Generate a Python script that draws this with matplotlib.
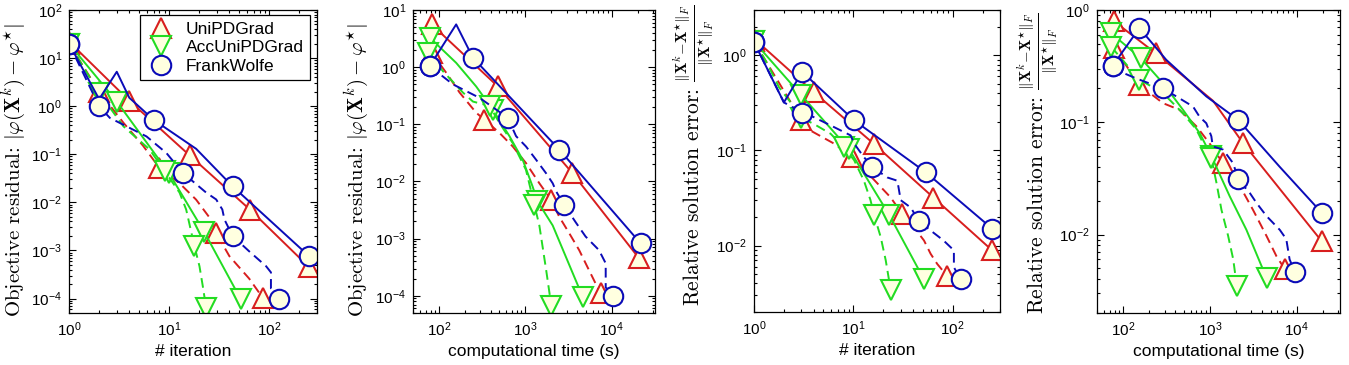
import matplotlib
matplotlib.use("Agg")
import matplotlib.pyplot as plt
from matplotlib.lines import Line2D

plt.rcParams['font.family'] = ['Liberation Sans', 'DejaVu Sans']
plt.rcParams['mathtext.fontset'] = 'cm'
plt.rcParams['lines.scale_dashes'] = False

# ---- panel 1: objective residual vs iteration ----
p1_red_k = [1, 4, 16, 64, 250]
p1_red_v = [22, 1.3, 0.095, 0.0071, 4.5e-4]
p1_red_mk = [0, 1, 2, 3, 4]
p1_redd_k = [1, 2, 3.5, 5.5, 8, 12.7, 18.6, 25, 29.5, 40, 63, 86]
p1_redd_v = [20, 2.0, 0.45, 0.15, 0.052, 0.025, 0.0114, 0.005, 0.0023, 7.6e-4, 2.6e-4, 1.04e-4]
p1_redd_mk = [0, 1, 4, 8, 11]
p1_grn_k = [1, 3, 10, 22.5, 52]
p1_grn_v = [20, 1.25, 0.04, 0.0024, 9.6e-5]
p1_grn_mk = [0, 1, 2, 3, 4]
p1_grnd_k = [1, 2, 3.5, 6.4, 9, 12.7, 14.8, 17.9, 20.1, 21.7, 23.4]
p1_grnd_v = [20, 1.9, 0.38, 0.125, 0.045, 0.016, 0.0071, 0.00123, 4.7e-4, 1.8e-4, 6.5e-5]
p1_grnd_mk = [0, 1, 4, 7, 10]
p1_blu_k = [1, 2, 3, 4, 7, 18.6, 43, 250]
p1_blu_v = [20, 1.4, 5.2, 1.5, 0.52, 0.13, 0.0216, 7.6e-4]
p1_blu_mk = [0, 4, 6, 7]
p1_blud_k = [1, 2, 2.56, 5.94, 9.4, 13.7, 23.4, 29.5, 34, 35.7, 43, 63, 93, 104, 104, 126]
p1_blud_v = [20, 0.99, 0.57, 0.235, 0.106, 0.041, 0.016, 0.0115, 0.0071, 0.0044, 0.002,
             9.6e-4, 4.7e-4, 3.5e-4, 1.6e-4, 9.6e-5]
p1_blud_mk = [0, 1, 5, 10, 15]

# ---- panel 2: objective residual vs time ----
p2_red_t = [82, 480, 3500, 20500]
p2_red_v = [5.6, 0.46, 0.014, 4.6e-4]
p2_red_mk = [0, 1, 2, 3]
p2_redd_t = [82, 121, 173, 269, 336, 500, 713, 1015, 1450, 1980, 2470, 3220, 4190, 5450, 7400]
p2_redd_v = [1.8, 0.8, 0.36, 0.16, 0.12, 0.071, 0.041, 0.021, 0.0093, 0.0048, 0.0024,
             0.00124, 6.3e-4, 2.8e-4, 1.1e-4]
p2_redd_mk = [0, 4, 9, 14]
p2_grn_t = [78, 158, 269, 420, 654, 930, 1210, 1380, 2070, 4600]
p2_grn_v = [3.3, 1.19, 0.46, 0.18, 0.062, 0.024, 0.0082, 0.0045, 0.0017, 9.6e-5]
p2_grn_mk = [0, 3, 7, 9]
p2_grnd_t = [75, 111, 189, 247, 385, 500, 713, 1015, 1270, 1450, 1740, 2000]
p2_grnd_v = [1.8, 0.85, 0.36, 0.25, 0.21, 0.106, 0.047, 0.016, 0.0039, 0.0017, 2.8e-4, 6.5e-5]
p2_grnd_mk = [0, 4, 8, 11]
p2_blu_t = [78, 158, 247, 2470, 21500]
p2_blu_v = [1.04, 5.6, 1.46, 0.036, 8.3e-4]
p2_blu_mk = [0, 2, 3, 4]
p2_blud_t = [78, 145, 295, 625, 780, 1015, 1330, 1730, 2070, 2270, 2800, 3850, 4970, 7100,
             8500, 8500, 10200]
p2_blud_v = [1.04, 0.5, 0.29, 0.13, 0.062, 0.041, 0.024, 0.014, 0.0093, 0.0067, 0.0039,
             0.0019, 0.00109, 6.3e-4, 3.7e-4, 1.4e-4, 1.0e-4]
p2_blud_mk = [0, 3, 10, 16]

# ---- panel 3: relative solution error vs iteration ----
p3_red_k = [1, 4, 16, 64, 250]
p3_red_v = [1.5, 0.41, 0.118, 0.032, 0.0089]
p3_red_mk = [0, 1, 2, 3, 4]
p3_redd_k = [1, 3, 3.7, 6.4, 9.8, 17.5, 23.8, 31, 40.7, 51.5, 60, 70, 88]
p3_redd_v = [1.4, 0.21, 0.162, 0.118, 0.085, 0.045, 0.032, 0.0215, 0.0156, 0.0113, 0.0082,
             0.0064, 0.0048]
p3_redd_mk = [0, 1, 4, 7, 12]
p3_grn_k = [1, 3, 9, 23, 51.5]
p3_grn_v = [1.4, 0.38, 0.104, 0.021, 0.0044]
p3_grn_mk = [0, 1, 2, 3, 4]
p3_grnd_k = [1, 1.36, 1.79, 2.34, 3, 4, 5.9, 8.06, 10.2, 12.8, 14.9, 16.2, 18.9, 21.2, 23.8]
p3_grnd_v = [1.4, 0.82, 0.46, 0.32, 0.22, 0.19, 0.15, 0.108, 0.079, 0.048, 0.03, 0.021,
             0.0122, 0.007, 0.0034]
p3_grnd_mk = [0, 4, 7, 11, 14]
p3_blu_k = [1, 2, 3.06, 10.2, 53.6, 251]
p3_blu_v = [1.38, 0.32, 0.67, 0.207, 0.059, 0.015]
p3_blu_mk = [0, 2, 3, 4, 5]
p3_blud_k = [1, 2, 3.06, 4, 6.4, 9.4, 10.2, 12.8, 15.5, 22, 27.8, 30, 38, 45.8, 60, 81,
             103, 103, 121]
p3_blud_v = [1.38, 0.32, 0.25, 0.224, 0.176, 0.144, 0.118, 0.085, 0.067, 0.052, 0.048,
             0.03, 0.025, 0.018, 0.0144, 0.0113, 0.0089, 0.0059, 0.0044]
p3_blud_mk = [0, 2, 8, 13, 18]

# ---- panel 4: relative solution error vs time ----
p4_red_t = [79, 240, 1090, 2420, 19500]
p4_red_v = [0.79, 0.41, 0.155, 0.065, 0.0087]
p4_red_mk = [0, 1, 3, 4]
p4_redd_t = [79, 154, 288, 447, 700, 990, 1420, 2220, 3140, 4500, 5860, 7330]
p4_redd_v = [0.46, 0.215, 0.148, 0.129, 0.092, 0.065, 0.043, 0.027, 0.0166, 0.0097,
             0.0064, 0.0049]
p4_redd_mk = [0, 1, 6, 11]
p4_grn_t = [73, 161, 288, 490, 763, 1040, 1690, 2640, 4500]
p4_grn_v = [0.62, 0.37, 0.223, 0.129, 0.08, 0.05, 0.022, 0.011, 0.0041]
p4_grn_mk = [0, 1, 5, 8]
p4_grnd_t = [73, 154, 288, 490, 700, 910, 1040, 1190, 1360, 1620, 1860, 2040]
p4_grnd_v = [0.47, 0.24, 0.182, 0.12, 0.086, 0.057, 0.048, 0.029, 0.0166, 0.0098, 0.006,
             0.0035]
p4_grnd_mk = [0, 1, 6, 11]
p4_blu_t = [76, 154, 314, 910, 2120, 6400, 19500]
p4_blu_v = [0.32, 0.69, 0.36, 0.17, 0.105, 0.04, 0.0156]
p4_blu_mk = [0, 1, 4, 6]
p4_blud_t = [76, 95, 141, 288, 410, 640, 760, 910, 1040, 1080, 1420, 1860, 2120, 2880,
             3450, 4500, 6400, 7600, 8300, 9600]
p4_blud_v = [0.32, 0.28, 0.246, 0.2, 0.17, 0.138, 0.112, 0.098, 0.075, 0.061, 0.057,
             0.043, 0.031, 0.0235, 0.0191, 0.0146, 0.011, 0.0091, 0.006, 0.0046]
p4_blud_mk = [0, 3, 12, 19]

labels = ['UniPDGrad', 'AccUniPDGrad', 'FrankWolfe']

RED = '#D81E1E'
GRN = '#22DC22'
BLU = '#0B0BB8'
FACE = '#FFFFE0'
DASH = (7, 4)
MS = 14

ylab_obj = r"Objective residual: $|\varphi(\mathbf{X}^k)-\varphi^{\star}|$"
ylab_rel = (r"Relative solution error: "
            r"$\frac{\|\mathbf{X}^k\!-\!\mathbf{X}^{\star}\|_F}{\|\mathbf{X}^{\star}\|_F}$")


def curve(ax, x, y, mk, color, marker, dashed):
    kw = dict(color=color, lw=1.4, marker=marker, markevery=mk, ms=MS,
              mfc=FACE, mec=color, mew=1.5)
    if dashed:
        ax.plot(x, y, ls='--', dashes=DASH, **kw)
    else:
        ax.plot(x, y, ls='-', **kw)


def style(ax):
    ax.set_xscale('log')
    ax.set_yscale('log')
    ax.tick_params(which='both', direction='in', top=True, right=True, width=0.8,
                   labelsize=11, pad=5)
    ax.tick_params(which='major', length=5)
    ax.tick_params(which='minor', length=2.5)
    for s in ax.spines.values():
        s.set_linewidth(0.9)


fig = plt.figure(figsize=(13.49, 3.65), dpi=100)
ax1 = fig.add_axes([69 / 1349, 52 / 365, 248 / 1349, 303 / 365])
ax2 = fig.add_axes([413 / 1349, 52 / 365, 242 / 1349, 303 / 365])
ax3 = fig.add_axes([754 / 1349, 53 / 365, 246 / 1349, 302 / 365])
ax4 = fig.add_axes([1097 / 1349, 52 / 365, 243 / 1349, 303 / 365])

for ax in (ax1, ax2, ax3, ax4):
    style(ax)

curve(ax1, p1_red_k, p1_red_v, p1_red_mk, RED, '^', False)
curve(ax1, p1_redd_k, p1_redd_v, p1_redd_mk, RED, '^', True)
curve(ax1, p1_grn_k, p1_grn_v, p1_grn_mk, GRN, 'v', False)
curve(ax1, p1_grnd_k, p1_grnd_v, p1_grnd_mk, GRN, 'v', True)
curve(ax1, p1_blu_k, p1_blu_v, p1_blu_mk, BLU, 'o', False)
curve(ax1, p1_blud_k, p1_blud_v, p1_blud_mk, BLU, 'o', True)

curve(ax2, p2_red_t, p2_red_v, p2_red_mk, RED, '^', False)
curve(ax2, p2_redd_t, p2_redd_v, p2_redd_mk, RED, '^', True)
curve(ax2, p2_grn_t, p2_grn_v, p2_grn_mk, GRN, 'v', False)
curve(ax2, p2_grnd_t, p2_grnd_v, p2_grnd_mk, GRN, 'v', True)
curve(ax2, p2_blu_t, p2_blu_v, p2_blu_mk, BLU, 'o', False)
curve(ax2, p2_blud_t, p2_blud_v, p2_blud_mk, BLU, 'o', True)

curve(ax3, p3_red_k, p3_red_v, p3_red_mk, RED, '^', False)
curve(ax3, p3_redd_k, p3_redd_v, p3_redd_mk, RED, '^', True)
curve(ax3, p3_grn_k, p3_grn_v, p3_grn_mk, GRN, 'v', False)
curve(ax3, p3_grnd_k, p3_grnd_v, p3_grnd_mk, GRN, 'v', True)
curve(ax3, p3_blu_k, p3_blu_v, p3_blu_mk, BLU, 'o', False)
curve(ax3, p3_blud_k, p3_blud_v, p3_blud_mk, BLU, 'o', True)

curve(ax4, p4_red_t, p4_red_v, p4_red_mk, RED, '^', False)
curve(ax4, p4_redd_t, p4_redd_v, p4_redd_mk, RED, '^', True)
curve(ax4, p4_grn_t, p4_grn_v, p4_grn_mk, GRN, 'v', False)
curve(ax4, p4_grnd_t, p4_grnd_v, p4_grnd_mk, GRN, 'v', True)
curve(ax4, p4_blu_t, p4_blu_v, p4_blu_mk, BLU, 'o', False)
curve(ax4, p4_blud_t, p4_blud_v, p4_blud_mk, BLU, 'o', True)

ax1.set_xlim(1, 300)
ax1.set_ylim(5e-5, 100)
ax2.set_xlim(50, 10 ** 4.5)
ax2.set_ylim(5e-5, 10)
ax3.set_xlim(1, 300)
ax3.set_ylim(2e-3, 3)
ax4.set_xlim(50, 10 ** 4.5)
ax4.set_ylim(2e-3, 1)

for ax, xl in ((ax1, '# iteration'), (ax3, '# iteration'),
               (ax2, 'computational time (s)'), (ax4, 'computational time (s)')):
    ax.set_xlabel(xl, fontsize=12.5, labelpad=4)

ax1.set_ylabel(ylab_obj, fontsize=15, fontfamily='cmr10')
ax2.set_ylabel(ylab_obj, fontsize=15, fontfamily='cmr10')
ax3.set_ylabel(ylab_rel, fontsize=15.5, fontfamily='cmr10')
ax4.set_ylabel(ylab_rel, fontsize=15.5, fontfamily='cmr10')
ax1.yaxis.set_label_coords(-0.166, 0.47)
ax2.yaxis.set_label_coords(-0.174, 0.47)
ax3.yaxis.set_label_coords(-0.159, 0.52)
ax4.yaxis.set_label_coords(-0.156, 0.495)

handles = [
    Line2D([], [], ls='none', marker='^', ms=MS, mfc=FACE, mec=RED, mew=1.5),
    Line2D([], [], ls='none', marker='v', ms=MS, mfc=FACE, mec=GRN, mew=1.5),
    Line2D([], [], ls='none', marker='o', ms=MS, mfc=FACE, mec=BLU, mew=1.5),
]
leg = ax1.legend(handles, labels, loc='upper right', bbox_to_anchor=(0.972, 0.982),
                 borderaxespad=0, fontsize=12.5, frameon=True, fancybox=False,
                 edgecolor='black', framealpha=1, labelspacing=0.2,
                 handlelength=1.7, handletextpad=0.6, borderpad=0.35)
leg.get_frame().set_linewidth(0.9)

fig.savefig('out.png', dpi=100)
